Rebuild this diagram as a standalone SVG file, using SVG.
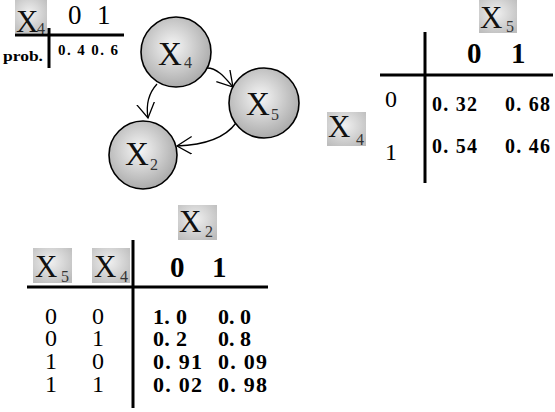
<svg xmlns="http://www.w3.org/2000/svg" width="555" height="412" viewBox="0 0 555 412">
<defs>
<radialGradient id="nodeFill" cx="45%" cy="42%" r="60%">
<stop offset="0" stop-color="#f6f6f6"/>
<stop offset="1" stop-color="#a9a9a9"/>
</radialGradient>
<radialGradient id="lblFill" cx="45%" cy="40%" r="70%">
<stop offset="0" stop-color="#f0f0f0"/>
<stop offset="1" stop-color="#bdbdbd"/>
</radialGradient>
<marker id="vee" markerUnits="userSpaceOnUse" markerWidth="18" markerHeight="20" refX="15" refY="9" orient="auto">
<path d="M0,0 L15,9 L0,18" fill="none" stroke="#000" stroke-width="1.3"/>
</marker>
</defs>
<style>
.node{fill:url(#nodeFill);stroke:#000;stroke-width:1.6}
.lbl{fill:url(#lblFill)}
.X{font-family:"Liberation Serif",serif;font-size:31px;fill:#111}
.Xn{font-family:"Liberation Serif",serif;font-size:33px;fill:#111}
.sub{font-family:"Liberation Serif",serif;font-size:16px;fill:#333}
.hd{font-family:"Liberation Serif",serif;font-size:27px;fill:#000}
.hdb{font-family:"Liberation Serif",serif;font-size:29px;font-weight:bold;fill:#000}
.row{font-family:"Liberation Serif",serif;font-size:24px;fill:#000}
.val{font-family:"Liberation Serif",serif;font-weight:bold;fill:#000}
.rule{stroke:#000;stroke-width:3}
.edge{fill:none;stroke:#000;stroke-width:1.3;marker-end:url(#vee)}
</style>

<g id="table-x4">
<rect class="lbl" x="15" y="0" width="32" height="33"/>
<text class="X" x="16" y="32">X</text>
<text class="sub" x="37" y="34">4</text>
<text class="hd" x="68" y="24">0</text>
<text class="hd" x="97" y="24">1</text>
<line class="rule" x1="15" y1="35" x2="124" y2="35" stroke-width="2.5"/>
<line class="rule" x1="49" y1="28" x2="49" y2="68" stroke-width="2.5"/>
<text class="val" x="3" y="61" font-size="15" textLength="40" lengthAdjust="spacingAndGlyphs">prob.</text>
<text class="val" x="58" y="55" font-size="15" textLength="60" xml:space="preserve">0. 4 0. 6</text>
</g>

<g id="connectors">
<path class="edge" d="M157,84 C147,95 146,106 148,118"/>
<path class="edge" d="M207,68 C218,68 226,79 233,87"/>
<path class="edge" d="M236,123 C225,138 205,145 177,146"/>
</g>

<g id="node-x4">
<circle class="node" cx="176" cy="52" r="35"/>
<text class="Xn" x="158" y="65">X</text>
<text class="sub" x="184" y="68" font-size="20">4</text>
</g>
<g id="node-x5">
<circle class="node" cx="264" cy="103" r="35"/>
<text class="Xn" x="246" y="115">X</text>
<text class="sub" x="271" y="120" font-size="20">5</text>
</g>
<g id="node-x2">
<circle class="node" cx="143" cy="155" r="34"/>
<text class="Xn" x="125" y="165">X</text>
<text class="sub" x="150" y="170" font-size="20">2</text>
</g>

<g id="table-x5">
<rect class="lbl" x="479" y="0" width="38" height="33"/>
<text class="X" x="480" y="28">X</text>
<text class="sub" x="506" y="32">5</text>
<text class="hdb" x="467" y="63">0</text>
<text class="hdb" x="511" y="63">1</text>
<line class="rule" x1="425" y1="32" x2="425" y2="183"/>
<line class="rule" x1="380" y1="75" x2="553" y2="75"/>
<rect class="lbl" x="327" y="112" width="39" height="34"/>
<text class="X" x="328" y="137">X</text>
<text class="sub" x="356" y="145">4</text>
<text class="row" x="385" y="107">0</text>
<text class="row" x="385" y="160">1</text>
<text class="val" x="432" y="111" font-size="20" textLength="45">0. 32</text>
<text class="val" x="505" y="111" font-size="20" textLength="45">0. 68</text>
<text class="val" x="432" y="153" font-size="20" textLength="45">0. 54</text>
<text class="val" x="505" y="153" font-size="20" textLength="45">0. 46</text>
</g>

<g id="table-x2">
<rect class="lbl" x="178" y="205" width="39" height="35"/>
<text class="X" x="179" y="232">X</text>
<text class="sub" x="205" y="237">2</text>
<rect class="lbl" x="33" y="248" width="39" height="35"/>
<text class="X" x="35" y="277">X</text>
<text class="sub" x="61" y="282">5</text>
<rect class="lbl" x="92" y="248" width="38" height="35"/>
<text class="X" x="94" y="277">X</text>
<text class="sub" x="120" y="282">4</text>
<text class="hdb" x="170" y="277" font-size="26">0</text>
<text class="hdb" x="212" y="277" font-size="26">1</text>
<line class="rule" x1="133" y1="240" x2="133" y2="408"/>
<line class="rule" x1="27" y1="287" x2="268" y2="287"/>
<text class="row" x="45" y="324">0</text><text class="row" x="92" y="324">0</text>
<text class="row" x="45" y="346">0</text><text class="row" x="92" y="346">1</text>
<text class="row" x="45" y="369">1</text><text class="row" x="92" y="369">0</text>
<text class="row" x="45" y="392">1</text><text class="row" x="92" y="392">1</text>
<text class="val" x="153" y="324" font-size="22" textLength="34">1. 0</text>
<text class="val" x="218" y="324" font-size="22" textLength="33">0. 0</text>
<text class="val" x="153" y="346" font-size="22" textLength="34">0. 2</text>
<text class="val" x="218" y="346" font-size="22" textLength="33">0. 8</text>
<text class="val" x="153" y="369" font-size="22" textLength="49">0. 91</text>
<text class="val" x="218" y="369" font-size="22" textLength="49">0. 09</text>
<text class="val" x="153" y="392" font-size="22" textLength="49">0. 02</text>
<text class="val" x="218" y="392" font-size="22" textLength="49">0. 98</text>
</g>
</svg>
